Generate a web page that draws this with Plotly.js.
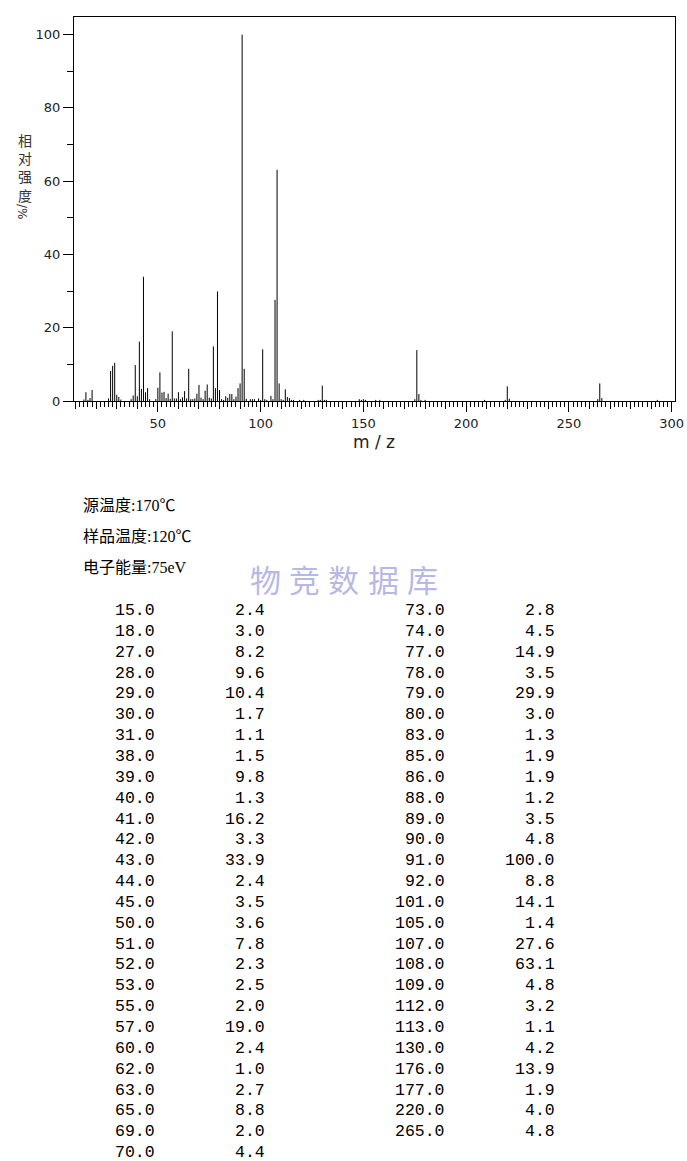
<!DOCTYPE html>
<html>
<head>
<meta charset="utf-8">
<script src="https://cdn.plot.ly/plotly-3.0.1.min.js"></script>
<style>
  html, body { margin: 0; padding: 0; background: #fff; }
  #chart { width: 687px; height: 1161px; }
</style>
</head>
<body>
<div id="chart"></div>
<script>
// Main peaks (from the listed table)
const mzValues = [15,18,27,28,29,30,31,38,39,40,41,42,43,44,45,50,51,52,53,55,57,60,62,63,65,69,70,
                  73,74,77,78,79,80,83,85,86,88,89,90,91,92,101,105,107,108,109,112,113,130,176,177,220,265];
const intensities = [2.4,3.0,8.2,9.6,10.4,1.7,1.1,1.5,9.8,1.3,16.2,3.3,33.9,2.4,3.5,3.6,7.8,2.3,2.5,2.0,19.0,2.4,1.0,2.7,8.8,2.0,4.4,
                     2.8,4.5,14.9,3.5,29.9,3.0,1.3,1.9,1.9,1.2,3.5,4.8,100.0,8.8,14.1,1.4,27.6,63.1,4.8,3.2,1.1,4.2,13.9,1.9,4.0,4.8];
// Small peaks visible in the spectrum but not in the table (estimated)
const minorMz = [14,16,17,26,32,37,46,49,54,56,58,59,61,64,66,67,68,71,72,75,76,81,82,84,87,93,95,96,97,99,100,102,103,106,
                 110,111,114,115,116,119,121,128,129,131,132,148,149,150,151,156,158,175,178,180,209,219,221,264,266,293];
const minorInt = [0.4,0.3,0.8,0.7,0.4,0.5,0.5,0.5,0.8,0.6,0.7,0.7,0.5,0.7,0.5,0.5,0.7,0.9,0.5,0.9,0.7,0.5,0.3,0.9,0.5,0.6,0.5,0.5,0.5,0.7,0.3,0.5,0.3,0.5,
                  0.5,0.3,0.8,0.3,0.3,0.3,0.3,0.3,0.3,0.3,0.3,0.5,0.3,0.5,0.3,0.3,0.3,0.5,0.3,0.3,0.3,0.3,0.6,0.5,0.8,0.3];
const xTickVals = [50,100,150,200,250,300];
const yTickVals = [0,20,40,60,80,100];
const yTitleChars = ["相","对","强","度"];
const yTitleUnit = "/%";
const xTitle = "m / z";
const infoLines = ["源温度:170℃", "样品温度:120℃", "电子能量:75eV"];
const watermarkChars = ["物","竞","数","据","库"];
const leftRowCount = 27;

// Build stick traces
function sticks(xs, ys) {
  const x = [], y = [];
  xs.forEach((m, i) => { x.push(m, m, null); y.push(0, ys[i], null); });
  return {x, y};
}
const allX = mzValues.concat(minorMz);
const allY = intensities.concat(minorInt);
const st = sticks(allX, allY);

const traces = [{
  type: 'scatter', mode: 'lines', x: st.x, y: st.y,
  line: {color: '#000', width: 1}, hoverinfo: 'skip', connectgaps: false
}];

// pixel -> paper helpers
const L = 74, R = 675, T = 17, B = 401;
const W = 687, H = 1161;
const px2x = px => (px - L) / (R - L);
const py2y = py => (B - py) / (B - T);

const ann = [];
ann.push({xref: 'paper', yref: 'paper', x: px2x(25), y: py2y(167.5), text: yTitleChars.join('<br>'),
  showarrow: false, xanchor: 'center', yanchor: 'middle', align: 'center',
  font: {family: 'Noto Sans CJK SC', size: 14, color: '#333'}});
ann.push({xref: 'paper', yref: 'paper', x: px2x(22), y: py2y(212), text: yTitleUnit, textangle: 90,
  showarrow: false, xanchor: 'center', yanchor: 'middle',
  font: {family: 'DejaVu Sans', size: 12, color: '#333'}});
ann.push({xref: 'paper', yref: 'paper', x: px2x(374), y: py2y(442), text: xTitle,
  showarrow: false, xanchor: 'center', yanchor: 'middle',
  font: {family: 'DejaVu Sans', size: 17, color: '#222'}});

infoLines.forEach((t, i) => {
  ann.push({xref: 'paper', yref: 'paper', x: px2x(81), y: py2y(505 + i * 31), text: t,
    showarrow: false, xanchor: 'left', yanchor: 'middle',
    font: {family: 'Liberation Serif, Noto Sans CJK SC', size: 16, color: '#000'}});
});
watermarkChars.forEach((c, i) => {
  ann.push({xref: 'paper', yref: 'paper', x: px2x(265 + i * 39.4), y: py2y(578), text: c,
    showarrow: false, xanchor: 'center', yanchor: 'middle',
    font: {family: 'Noto Sans CJK SC', size: 31, color: '#b8b8e4'}});
});

// Table
const rowY0 = 610.5, rowDY = 20.85;
mzValues.forEach((m, i) => {
  const left = i < leftRowCount;
  const r = left ? i : i - leftRowCount;
  const xM = left ? 156 : 446;
  const xI = left ? 266 : 556;
  const yy = py2y(rowY0 + r * rowDY);
  const f = {family: 'Liberation Mono, Courier New, monospace', size: 16.5, color: '#000'};
  ann.push({xref: 'paper', yref: 'paper', x: px2x(xM), y: yy, text: m.toFixed(1),
    showarrow: false, xanchor: 'right', yanchor: 'middle', font: f, borderpad: 0});
  ann.push({xref: 'paper', yref: 'paper', x: px2x(xI), y: yy, text: intensities[i].toFixed(1),
    showarrow: false, xanchor: 'right', yanchor: 'middle', font: f, borderpad: 0});
});

const tickFont = {family: 'DejaVu Sans', size: 13, color: '#222'};
const layout = {
  width: W, height: H,
  margin: {l: L, r: W - R, t: T, b: H - B, pad: 0},
  paper_bgcolor: '#fff', plot_bgcolor: '#fff',
  showlegend: false,
  xaxis: {
    range: [9.2, 301.6], showgrid: false, zeroline: false,
    showline: true, mirror: true, linecolor: '#000', linewidth: 1,
    ticks: 'outside', tickvals: xTickVals, ticklen: 10, tickcolor: '#000', tickwidth: 1,
    tickfont: tickFont,
    minor: {dtick: 2, tick0: 0, ticks: 'outside', ticklen: 5, tickcolor: '#000', tickwidth: 1, showgrid: false}
  },
  xaxis2: {
    overlaying: 'x', anchor: 'y', side: 'bottom', range: [9.2, 301.6],
    showgrid: false, zeroline: false, showline: false, showticklabels: false,
    ticks: 'outside', dtick: 10, tick0: 0, ticklen: 7, tickcolor: '#000', tickwidth: 1
  },
  yaxis: {
    range: [0, 104.8], showgrid: false, zeroline: false,
    showline: true, mirror: true, linecolor: '#000', linewidth: 1,
    ticks: 'outside', tickvals: yTickVals, ticklen: 10, tickcolor: '#000', tickwidth: 1,
    tickfont: tickFont,
    minor: {dtick: 10, tick0: 0, ticks: 'outside', ticklen: 6, tickcolor: '#000', tickwidth: 1, showgrid: false}
  },
  annotations: ann
};
// dummy trace to activate xaxis2
traces.push({type: 'scatter', mode: 'lines', x: [null], y: [null], xaxis: 'x2', yaxis: 'y', hoverinfo: 'skip'});

Plotly.newPlot('chart', traces, layout, {staticPlot: true, displayModeBar: false});
</script>
</body>
</html>
